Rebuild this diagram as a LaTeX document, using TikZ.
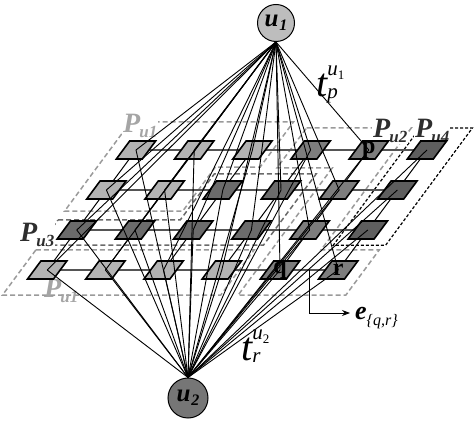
\documentclass[tikz,border=0pt]{standalone}
\usepackage{fontspec}
\setmainfont{Liberation Serif}
\usetikzlibrary{arrows.meta,calc}
\pgfdeclarelayer{regions}
\pgfdeclarelayer{grid}
\pgfdeclarelayer{cells}
\pgfdeclarelayer{links}
\pgfsetlayers{regions,grid,cells,links,main}
\definecolor{lightcell}{HTML}{B3B3B3}
\definecolor{midcell}{HTML}{7D7D7D}
\definecolor{darkcell}{HTML}{6B6B6B}
\definecolor{darkestcell}{HTML}{5E5E5E}
\definecolor{uonefill}{HTML}{BDBDBD}
\definecolor{utwofill}{HTML}{767676}
\definecolor{regiongray}{HTML}{9A9A9A}
\definecolor{regiondark}{HTML}{6A6A6A}
\definecolor{rowgray}{HTML}{555555}
\definecolor{labgray}{HTML}{A5A5A5}
\definecolor{labdark}{HTML}{2E2E2E}
\newcommand{\Plab}[1]{\fontsize{28}{28}\selectfont\bfseries\itshape P\kern-1pt\raisebox{-5pt}{\fontsize{17}{17}\selectfont u#1}}
\newcommand{\ulab}[1]{\fontsize{25}{25}\selectfont\bfseries\itshape u\kern1pt\raisebox{-4pt}{\fontsize{16}{16}\selectfont #1}}
\newcommand{\tlab}[2]{\fontsize{40}{40}\selectfont\itshape t\rlap{\raisebox{-2pt}{\fontsize{21}{21}\selectfont #1}}\raisebox{21pt}{\fontsize{21}{21}\selectfont u\raisebox{-4pt}{\fontsize{13}{13}\selectfont\upshape #2}}}
\newcommand{\celllet}[1]{\fontsize{24}{24}\selectfont\bfseries #1}
\tikzset{
  cellborder/.style={draw=black, line width=1.6pt, line join=miter},
  rowlink/.style={draw=rowgray, line width=1.8pt},
  collink/.style={draw=black, line width=1pt},
  ulink/.style={draw=black, line width=0.9pt},
  regiongrayline/.style={draw=regiongray, line width=1.5pt, dash pattern=on 5pt off 3pt},
  regiondarkline/.style={draw=regiondark, line width=1.5pt, dash pattern=on 5pt off 3pt},
  regionblackline/.style={draw=black, line width=1.2pt, dash pattern=on 3pt off 2pt},
  unode/.style={circle, draw=black, line width=1pt, inner sep=0pt},
  plabel/.style={anchor=base west, inner sep=1pt},
  celltext/.style={inner sep=0pt, text=black},
}
\begin{document}
\begin{tikzpicture}[x=1pt,y=-1pt]
\useasboundingbox (0,0) rectangle (474,427);
% user nodes
\node[unode, fill=uonefill, minimum size=37pt] (u1) at (276,23) {\ulab{1}};
\node[unode, fill=utwofill, minimum size=40pt] (u2) at (188,398) {\ulab{2}};
% skewed grid
\begin{scope}[x={(58.2pt,0pt)}, y={(-29.6pt,-40pt)}, shift={(136pt,-150pt)}]
  \foreach \i in {0,...,5} \foreach \j in {0,...,3} { \coordinate (c\i\j) at (\i,\j); }
  \begin{pgfonlayer}{regions}
    \draw[regiongrayline] (-0.45,-0.7) -- (2.35,-0.7) -- (2.35,0.43) -- (1.58,0.43) -- (1.58,1.53) -- (-0.45,1.53) -- cycle;
    \draw[regiondarkline] (-0.45,1.75) -- (1.65,1.75) -- (1.65,0.6) -- (3.4,0.6) -- (3.4,2.38) -- (-0.45,2.38) -- cycle;
    \draw[regiongrayline] (-0.45,2.5) -- (3.3,2.5) -- (3.3,3.63) -- (-0.45,3.63) -- cycle;
    \draw[regiongrayline] (2.65,-0.55) -- (4.45,-0.55) -- (4.45,2.5) -- (5.45,2.5) -- (5.45,3.63) -- (3.6,3.63) -- (3.6,0.45) -- (2.65,0.45) -- cycle;
    \draw[regionblackline] (4.6,-0.55) -- (5.5,-0.55) -- (5.5,2.38) -- (4.6,2.38) -- cycle;
  \end{pgfonlayer}
  \begin{pgfonlayer}{grid}
    \foreach \j in {0,...,3} { \draw[rowlink] (c0\j) -- (c5\j); }
    \foreach \i in {0,...,5} { \draw[collink] (c\i0) -- (c\i3); }
  \end{pgfonlayer}
  \begin{pgfonlayer}{cells}
    \foreach \i/\j/\c in {0/0/lightcell,1/0/lightcell,2/0/lightcell,3/0/midcell,4/0/midcell,5/0/darkestcell,
                          0/1/lightcell,1/1/lightcell,2/1/darkcell,3/1/darkcell,4/1/midcell,5/1/darkestcell,
                          0/2/darkcell,1/2/darkcell,2/2/darkcell,3/2/darkcell,4/2/midcell,5/2/darkestcell,
                          0/3/lightcell,1/3/lightcell,2/3/lightcell,3/3/lightcell,4/3/midcell,5/3/midcell} {
      \draw[cellborder, fill=\c] (\i-0.223,\j-0.225) -- (\i+0.223,\j-0.225) -- (\i+0.223,\j+0.225) -- (\i-0.223,\j+0.225) -- cycle;
    }
  \end{pgfonlayer}
\end{scope}
% region labels
\begin{pgfonlayer}{grid}
  \node[plabel, fill=white, text=labgray] (lu1a) at (122,133) {\Plab{1}};
  \node[plabel, fill=white, text=labdark] (lu3) at (19,242) {\Plab{3}};
  \node[plabel, text=labgray] (lu1b) at (43,298) {\Plab{1}};
  \node[plabel, fill=white, text=labdark] (lu2) at (372,138) {\Plab{2}};
  \node[plabel, fill=white, text=labdark] (lu4) at (414,138) {\Plab{4}};
\end{pgfonlayer}
% links from the users
\begin{pgfonlayer}{links}
  \foreach \t in {00,10,20,30,40,01,11,21,31,41,02,12,22,32,42,03,13,23,33,43,53} {
    \draw[ulink] (u1.south) -- (c\t);
  }
  \foreach \t in {00,10,20,30,40,50,01,11,21,31,41,51,02,12,22,32,42,52,03,13,23,33,43,53} {
    \draw[ulink] (u2.north) -- (c\t);
  }
\end{pgfonlayer}
% cell letters
\node[celltext] (pl) at (c40) {\celllet{p}};
\node[celltext] (ql) at (c43) {\celllet{q}};
\node[celltext] (rl) at (c53) {\celllet{r}};
% travel time labels
\node[anchor=base west, inner sep=0pt] (tp) at (316,97) {\tlab{p}{1}};
\node[anchor=base west, inner sep=0pt] (tr) at (241,361) {\tlab{r}{2}};
% edge label
\coordinate (qr) at ($(c43)!0.5!(c53)$);
\coordinate (arrend) at (350,313);
\draw[ulink, -{Stealth[length=8pt,width=6pt]}] (qr) |- (arrend);
\node[anchor=base west, inner sep=0pt] (elab) at (355,320) {\fontsize{26}{26}\selectfont\bfseries\itshape e\raisebox{-6pt}{\fontsize{16}{16}\selectfont\mdseries\{q,r\}}};
\end{tikzpicture}
\end{document}
